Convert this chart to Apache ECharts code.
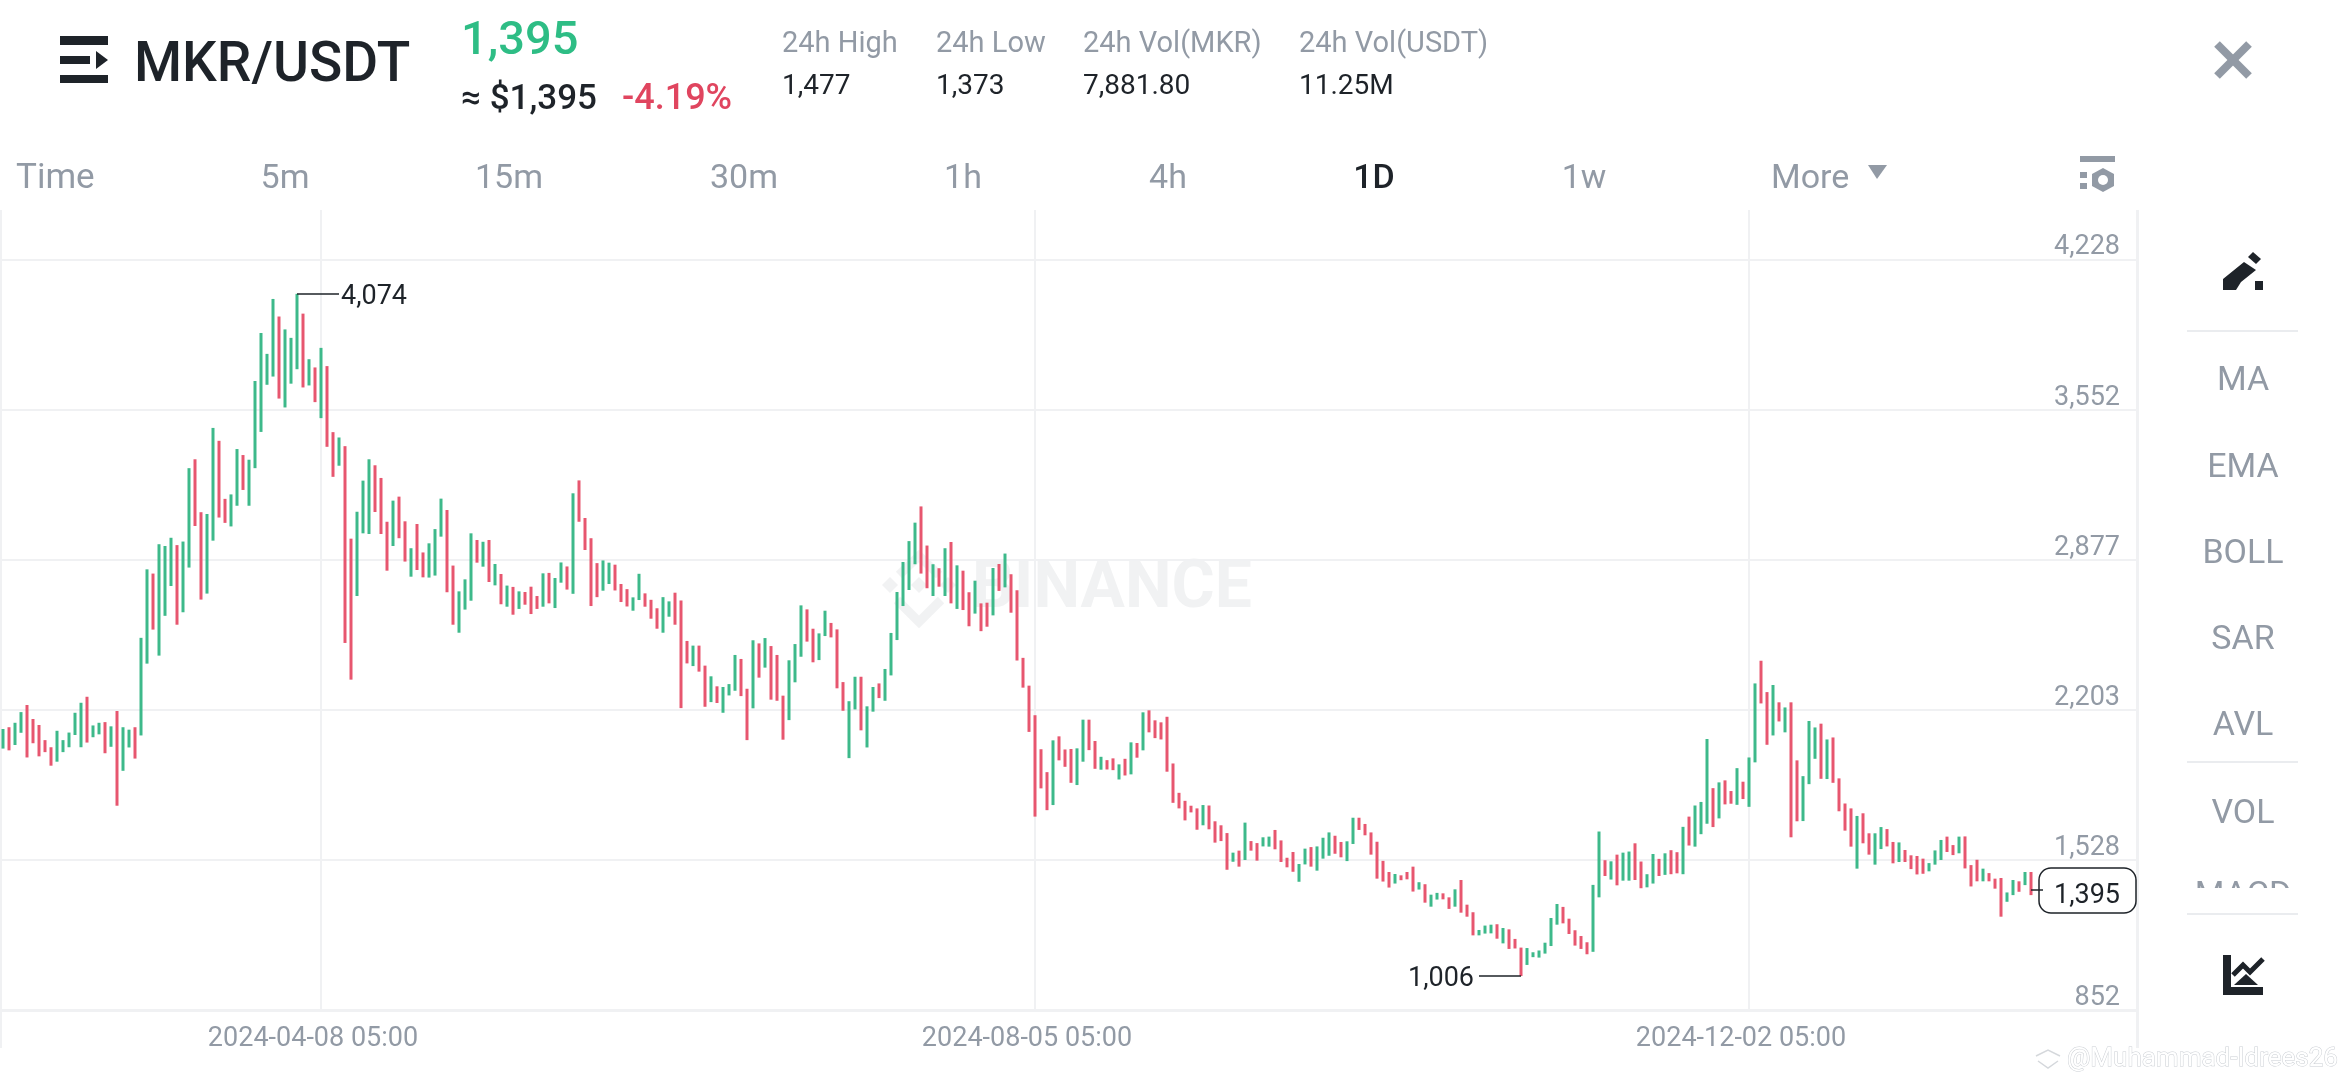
<!DOCTYPE html>
<html>
<head>
<meta charset="utf-8">
<title>MKR/USDT</title>
<script src="https://cdn.jsdelivr.net/npm/echarts@6/dist/echarts.min.js"></script>
<style>
  html, body { margin: 0; padding: 0; background: #fff; }
  #chart { width: 2340px; height: 1080px; }
</style>
</head>
<body>
<div id="chart"></div>
<script>
// daily candles, no visible wicks so only top and bottom
const highs = [
  2117,2125,2145,2193,2225,2162,2135,2067,2035,2109,2067,2101,2190,2235,2262,2133,2145,2148,2129,2198,
  2125,2114,2125,2527,2835,2816,2948,2940,2977,2944,2960,3290,3330,3092,3084,3471,3413,3152,3172,3376,
  3349,3328,3682,3898,3804,4051,3972,3914,3876,4074,3985,3780,3743,3831,3749,3452,3428,3389,2973,3094,
  3234,3330,3303,3246,3049,3144,3162,3051,2930,3039,2911,2952,3016,3153,3102,2852,2736,2790,2997,2967,
  2959,2967,2859,2814,2762,2756,2736,2733,2757,2715,2817,2819,2796,2866,2848,3177,3235,3066,2975,2863,
  2875,2865,2856,2769,2746,2709,2815,2727,2698,2660,2710,2691,2730,2695,2513,2492,2492,
  2402,2354,2309,2306,2319,2450,2432,2298,2516,2502,2526,2490,2450,2267,2426,2499,2673,2655,2568,2547,
  2649,2594,2565,2328,2242,2352,2352,2219,2306,2322,2387,2549,2733,2868,2962,3045,3118,2942,2858,2840,
  2930,2958,2853,2829,2732,2784,2682,2685,2841,2859,2906,2813,2741,2437,2312,2179,2026,
  1923,2066,2084,2025,2027,2030,2159,2159,2063,1992,1977,1985,1958,1983,2057,2054,2192,2201,2156,2147,
  2172,1962,1830,1794,1772,1760,1775,1773,1702,1684,1649,1561,1570,1696,1613,1604,1630,1633,1663,1616,
  1538,1564,1510,1579,1586,1589,1628,1652,1637,1609,1612,1718,1718,1690,1652,1610,
  1524,1474,1465,1459,1474,1498,1428,1419,1372,1380,1378,1360,1396,1438,1327,1293,1213,1233,1237,1239,
  1222,1216,1173,1134,1132,1113,1121,1156,1267,1330,1317,1264,1212,1186,1158,1416,1656,1527,1522,1552,
  1561,1566,1603,1521,1464,1555,1533,1558,1572,1563,1677,1723,1773,1789,2072,1851,1877,
  1886,1838,1941,1880,1989,2322,2424,2283,2315,2237,2214,2237,1976,1905,2153,2124,2141,2070,2079,1895,
  1782,1760,1726,1738,1648,1648,1676,1667,1609,1607,1573,1549,1546,1534,1514,1571,1618,1633,1595,1633,
  1634,1505,1529,1489,1469,1444,1447,1382,1438,1432,1474,1474
];
const lows = [
  2029,2021,2045,2100,1989,2053,1994,2013,1952,1970,2013,2035,2090,2035,2056,2080,2093,2008,2037,1772,
  1929,2034,1984,2088,2411,2564,2447,2626,2760,2586,2642,2843,3030,2699,2726,2964,3068,3044,3028,3121,
  3192,3121,3290,3453,3665,3702,3603,3563,3670,3735,3653,3662,3587,3515,3386,3251,3301,2504,2339,2715,
  2997,2994,3093,2994,2829,2940,2975,2870,2802,2832,2799,2798,2807,2982,2732,2586,2550,2654,2694,2865,
  2847,2778,2763,2678,2667,2631,2657,2676,2634,2657,2667,2682,2661,2775,2744,2725,3049,2922,2670,2710,
  2739,2769,2740,2688,2668,2649,2697,2667,2613,2568,2550,2622,2586,2211,2412,2400,2375,
  2217,2238,2234,2190,2268,2289,2265,2067,2210,2348,2393,2249,2244,2069,2157,2327,2442,2510,2417,2427,
  2535,2529,2300,2199,1986,2205,2111,2034,2195,2256,2244,2358,2517,2670,2742,2858,2816,2750,2715,2757,
  2715,2682,2657,2652,2579,2636,2557,2577,2628,2738,2754,2640,2425,2303,2104,1723,1850,
  1752,1775,1976,1947,1875,1865,1970,2022,1938,1934,1935,1932,1890,1908,1913,1988,2021,2102,2076,2070,
  1925,1785,1760,1706,1742,1664,1684,1666,1606,1613,1484,1520,1498,1528,1570,1525,1589,1588,1576,1519,
  1495,1475,1430,1508,1498,1480,1534,1547,1556,1540,1523,1600,1663,1639,1552,1444,
  1431,1404,1422,1437,1441,1386,1395,1336,1318,1350,1351,1308,1318,1291,1273,1189,1189,1197,1198,1174,
  1153,1128,1130,1006,1056,1091,1089,1107,1141,1237,1243,1195,1143,1128,1104,1115,1360,1456,1440,1414,
  1435,1435,1438,1401,1405,1422,1456,1461,1464,1468,1464,1593,1588,1644,1691,1676,1715,
  1778,1781,1776,1802,1767,1967,2232,2046,2088,2151,2102,1630,1702,1703,1869,1983,1893,1892,1875,1747,
  1660,1588,1489,1603,1552,1507,1577,1589,1513,1519,1519,1487,1463,1466,1477,1507,1528,1564,1550,1558,
  1490,1409,1432,1432,1432,1399,1273,1340,1370,1385,1415,1370
];
// U = closed up (green), D = closed down (red)
const sides = (
  'UDUUDDDDDU' + 'UUUUDUUDUD' + 'UUDUUDUUUD' + 'UUDDUUDDUU' + 'DUUUUUDUUU' + 'DUDUDDUDDU' +
  'UUDDDUDDUD' + 'DUUUDDUUUD' + 'UDUDUDUDDD' + 'UDUUDUDDDD' + 'UUDDDUUDDD' + 'UUDDDUD' +
  'DUDUUUDDUD' + 'UDDDUUUDDU' + 'UDDDUUDUUD' + 'UUUUUUDDUD' + 'UDUDDUDDUD' + 'UDDDDDD' +
  'DUDDDUUDDU' + 'DDUDUDUDDD' + 'DDDDDDUDDD' + 'DUDUDDUUDD' + 'DDUUDUUUDD' + 'UUDDDD' +
  'DDUDDDUDUU' + 'DDUDDDUUUD' + 'UDDDUUUUUU' + 'DDDDDUUDUD' + 'UUDDUUDUDD' + 'UDUUUDU' +
  'DDUDUUDDUD' + 'UDDUUUDUDD' + 'DDUDDUUDDU' + 'DDDDUUUDDU' + 'DDDUDDDUUD' + 'UD'
).split('');

const priceTicks = [852, 1528, 2203, 2877, 3552, 4228];
const dateTicks = ['2024-04-08 05:00', '2024-08-05 05:00', '2024-12-02 05:00'];
const peakPrice = 4074, peakDay = 49;
const lowPrice = 1006, lowDay = 253;
const lastPrice = 1395;

const periods = ['Time', '5m', '15m', '30m', '1h', '4h', '1D', '1w', 'More'];
const indicators = ['MA', 'EMA', 'BOLL', 'SAR', 'AVL', 'VOL', 'MACD'];

const green = '#3DB98A', red = '#E7566F', ink = '#1E2329', grey = '#929AA5', rule = '#F0F1F3';
const font = 'Roboto';

// one category per day, the empty ones at the end keep the gap before the price column
const days = [];
const firstDay = Date.UTC(2024, 1, 15);
for (let i = 0; i < 356; i++) {
  days.push(new Date(firstDay + i * 86400000).toISOString().slice(0, 10) + ' 05:00');
}

const candles = highs.map((h, i) =>
  sides[i] === 'U' ? [lows[i], h, lows[i], h] : [h, lows[i], lows[i], h]);

function txt(x, y, text, size, fill, weight, align) {
  return {
    type: 'text', x: x, y: y,
    style: {
      text: text, fill: fill, fontFamily: font, fontSize: size,
      fontWeight: weight || 400, align: align || 'left', verticalAlign: 'middle'
    }
  };
}
function poly(points, fill) {
  return { type: 'polygon', shape: { points: points }, style: { fill: fill } };
}
function box(x, y, w, h, fill) {
  return { type: 'rect', shape: { x: x, y: y, width: w, height: h }, style: { fill: fill } };
}
function stroke(points, color, width) {
  return { type: 'polyline', shape: { points: points }, style: { stroke: color, lineWidth: width, fill: null } };
}

const elements = [
  // menu icon
  box(60, 36, 48, 9, ink), box(60, 56, 30, 8, ink), box(60, 75, 48, 8, ink),
  poly([[96, 51], [108, 60], [96, 69]], ink),

  // header
  txt(134, 67, 'MKR/USDT', 55, ink, 500),
  txt(461, 42, '1,395', 47, '#2EBD85', 500),
  txt(461, 100, '≈ $1,395', 35, ink, 500),
  txt(622, 100, '-4.19%', 36, '#E0455F', 500),
  txt(782, 45, '24h High', 29, grey), txt(782, 87, '1,477', 28, ink),
  txt(936, 45, '24h Low', 29, grey), txt(936, 87, '1,373', 28, ink),
  txt(1083, 45, '24h Vol(MKR)', 29, grey), txt(1083, 87, '7,881.80', 28, ink),
  txt(1299, 45, '24h Vol(USDT)', 29, grey), txt(1299, 87, '11.25M', 28, ink),
  stroke([[2217, 44], [2249, 76]], grey, 8), stroke([[2249, 44], [2217, 76]], grey, 8),

  // period tabs
  txt(16, 179, periods[0], 35, grey),
  txt(285, 179, periods[1], 34, grey, 400, 'center'),
  txt(509, 179, periods[2], 34, grey, 400, 'center'),
  txt(744, 179, periods[3], 34, grey, 400, 'center'),
  txt(963, 179, periods[4], 34, grey, 400, 'center'),
  txt(1168, 179, periods[5], 34, grey, 400, 'center'),
  txt(1374, 179, periods[6], 34, ink, 500, 'center'),
  txt(1584, 179, periods[7], 34, grey, 400, 'center'),
  txt(1771, 179, periods[8], 34, grey),
  poly([[1868, 165], [1887, 165], [1877, 179]], grey),

  // settings icon
  box(2080, 156, 35, 6, grey), box(2080, 172, 7, 6, grey), box(2080, 183, 7, 6, grey),
  poly([[2103, 168], [2114, 174], [2114, 186], [2103, 192], [2092, 186], [2092, 174]], grey),
  { type: 'circle', shape: { cx: 2103, cy: 180, r: 5 }, style: { fill: '#fff' } },

  // chart frame
  box(0, 210, 2, 838, rule), box(2136, 210, 3, 838, rule),

  // price box
  { type: 'rect', shape: { x: 2039, y: 868, width: 97, height: 45, r: 12 }, style: { fill: '#fff', stroke: ink, lineWidth: 1.5 } },
  txt(2120, 896, lastPrice.toLocaleString('en-US'), 27, ink, 400, 'right'),

  // side panel
  box(2187, 330, 111, 2, '#EAECEF'), box(2187, 761, 111, 2, '#EAECEF'), box(2187, 913, 111, 2, '#EAECEF'),
  poly([[2223, 290], [2223, 279], [2244, 262], [2256, 270], [2241, 282], [2236, 290]], ink),
  poly([[2248, 257], [2253, 252], [2261, 259], [2256, 264]], ink),
  box(2255, 281, 8, 9, ink),
  txt(2243, 381, indicators[0], 34, grey, 400, 'center'),
  txt(2243, 468, indicators[1], 34, grey, 400, 'center'),
  txt(2243, 554, indicators[2], 34, grey, 400, 'center'),
  txt(2243, 640, indicators[3], 34, grey, 400, 'center'),
  txt(2243, 726, indicators[4], 34, grey, 400, 'center'),
  txt(2243, 814, indicators[5], 34, grey, 400, 'center'),
  txt(2243, 896, indicators[6], 34, grey, 400, 'center'),
  box(2187, 888, 111, 25, '#fff'),
  box(2223, 955, 8, 40, ink), box(2223, 987, 40, 8, ink),
  stroke([[2233, 975], [2243, 965], [2250, 972], [2263, 959]], ink, 5),
  poly([[2246, 974], [2258, 985], [2234, 985]], ink),

  // watermarks
  stroke([[897, 600], [919, 622], [941, 600]], '#F1F2F3', 9),
  stroke([[899, 575], [919, 556], [939, 575]], '#F1F2F3', 9),
  poly([[890, 577], [898, 585], [890, 593], [882, 585]], '#F1F2F3'),
  poly([[919, 577], [927, 585], [919, 593], [911, 585]], '#F1F2F3'),
  poly([[948, 577], [956, 585], [948, 593], [940, 585]], '#F1F2F3'),
  txt(972, 590, 'BINANCE', 66, '#F1F2F3', 700),
  stroke([[2036, 1056], [2048, 1050], [2060, 1056]], '#D5D8DC', 1.5),
  stroke([[2038, 1061], [2048, 1068], [2058, 1061]], '#D5D8DC', 1.5),
  {
    type: 'text', x: 2067, y: 1059,
    style: {
      text: '@Muhammad-Idrees26', fontFamily: font, fontSize: 26, verticalAlign: 'middle',
      fill: '#fff', stroke: '#CBCFD4', lineWidth: 1
    }
  }
];

const gridLines = priceTicks.map(p => ({ yAxis: p }))
  .concat(dateTicks.map(d => ({ xAxis: d })));

const option = {
  animation: false,
  backgroundColor: '#fff',
  grid: { left: 0, width: 2136, top: 210, height: 800.3 },
  xAxis: {
    type: 'category',
    data: days,
    axisLine: { show: true, lineStyle: { color: rule, width: 3 } },
    axisTick: { show: false },
    splitLine: { show: false },
    axisLabel: {
      interval: (i, v) => dateTicks.includes(v),
      color: grey, fontFamily: font, fontSize: 27, margin: 15, padding: [0, 16, 0, 0]
    }
  },
  yAxis: {
    type: 'value',
    position: 'right',
    min: 852,
    max: 4451,
    axisLine: { show: false },
    axisTick: { show: false },
    splitLine: { show: false },
    axisLabel: {
      inside: true,
      customValues: priceTicks,
      formatter: v => v.toLocaleString('en-US'),
      color: grey, fontFamily: font, fontSize: 27, margin: 16,
      verticalAlign: 'bottom', lineHeight: 24
    }
  },
  graphic: { elements: elements },
  series: [
    {
      // empty series, only carries the chart rules under the candles
      type: 'line',
      data: [],
      z: 1,
      markLine: {
        silent: true, symbol: 'none', z: 1, label: { show: false },
        lineStyle: { color: rule, width: 2, type: 'solid' },
        data: gridLines
      }
    },
    {
      type: 'candlestick',
      data: candles,
      barWidth: 3,
      z: 3,
      itemStyle: { color: green, color0: red, borderColor: green, borderColor0: red, borderWidth: 0 },
      markLine: {
        silent: true, symbol: 'none',
        lineStyle: { color: ink, width: 1.5, type: 'solid' },
        label: { position: 'end', color: ink, fontFamily: font, fontSize: 27, distance: 2, offset: [0, 3] },
        data: [
          [{ coord: [days[peakDay], peakPrice], label: { formatter: peakPrice.toLocaleString('en-US') } },
           { coord: [days[peakDay + 7], peakPrice] }],
          [{ coord: [days[lowDay], lowPrice], label: { formatter: lowPrice.toLocaleString('en-US'), distance: 5 } },
           { coord: [days[lowDay - 7], lowPrice] }],
          [{ coord: [days[338], lastPrice], label: { show: false } },
           { coord: [days[340], lastPrice] }]
        ]
      }
    }
  ]
};

const myChart = echarts.init(document.getElementById('chart'));
myChart.setOption(option);
</script>
</body>
</html>
